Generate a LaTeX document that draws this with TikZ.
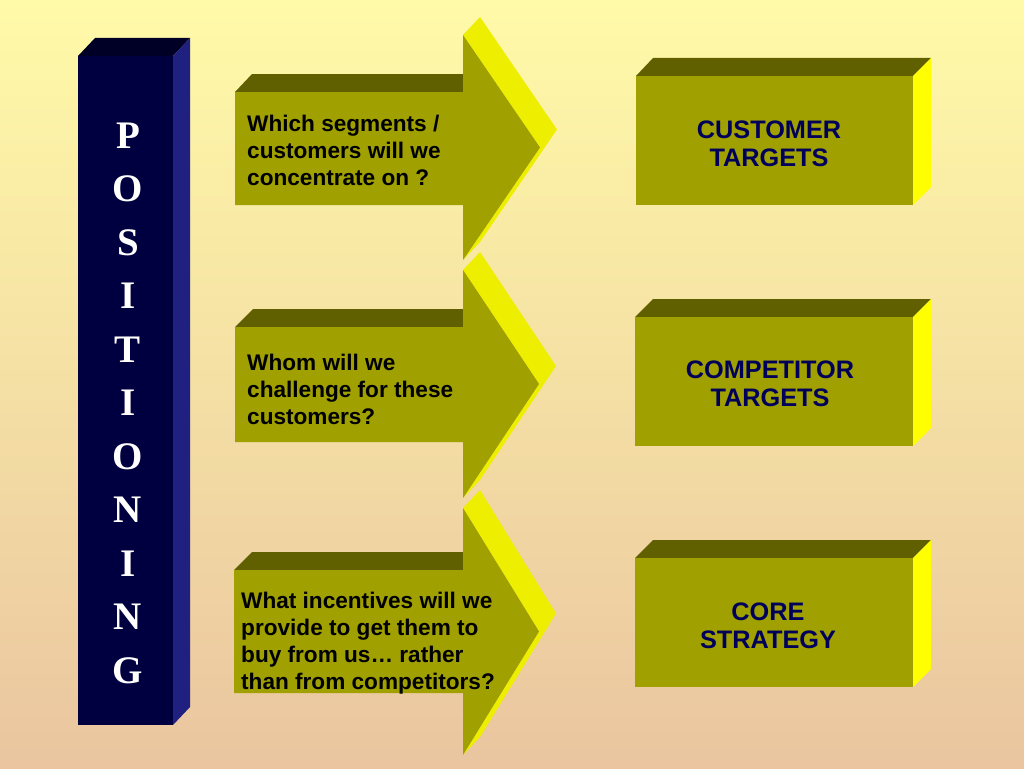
\documentclass[tikz,border=0pt]{standalone}
\usepackage{fontspec}
\setmainfont{Liberation Serif}
\setsansfont{Liberation Sans}
\definecolor{bgtop}{RGB}{255,250,168}
\definecolor{bgbottom}{RGB}{234,197,160}
\definecolor{barfront}{RGB}{0,0,64}
\definecolor{bartop}{RGB}{0,0,38}
\definecolor{barside}{RGB}{32,32,128}
\definecolor{facefront}{RGB}{160,160,0}
\definecolor{facetop}{RGB}{96,96,0}
\definecolor{boxside}{RGB}{255,255,0}
\definecolor{headside}{RGB}{238,238,0}
\definecolor{targettext}{RGB}{0,0,90}
\begin{document}
\begin{tikzpicture}[x=1pt, y=-1pt,
        question/.style={font=\sffamily\bfseries\fontsize{22.6}{27}\selectfont, align=left, anchor=north west, inner sep=0pt},
        target/.style={font=\sffamily\bfseries\fontsize{25.3}{28.5}\selectfont, text=targettext, align=center, inner sep=0pt}]
                            \useasboundingbox (0,0) rectangle (1024,768);
                            \shade[top color=bgtop, bottom color=bgbottom] (0,0) rectangle (1024,768);
                            % positioning bar
                            \fill[bartop] (78,56) -- (95,38) -- (190,38) -- (173,56) -- cycle;
                            \fill[barside] (173,56) -- (190,38) -- (190,707) -- (173,725) -- cycle;
                            \fill[barfront] (78,56) rectangle (173,725);
                            \node[font=\bfseries\fontsize{39}{53.5}\selectfont, text=white, align=center, inner sep=0pt] (letters) at (128,403) {P\\O\\S\\I\\T\\I\\O\\N\\I\\N\\G};
                            % arrow 1
                            \fill[facetop] (235,92) -- (252,74) -- (480,74) -- (463,92) -- cycle;
                            \fill[headside] (463,35) -- (480,17) -- (557,129.5) -- (540,147.5) -- cycle;
                            \fill[headside] (540,147.5) -- (557,129.5) -- (480,242) -- (463,260) -- cycle;
                            \fill[facefront] (235,92) -- (463,92) -- (463,35) -- (540,147.5) -- (463,260) -- (463,205) -- (235,205) -- cycle;
                            \node[question] (segments) at (247,115) {Which segments /\\customers will we\\concentrate on ?};
                            % arrow 2
                            \fill[facetop] (235,327) -- (253,309) -- (480,309) -- (463,327) -- cycle;
                            \fill[headside] (463,270) -- (480,252) -- (556,366) -- (539,384) -- cycle;
                            \fill[headside] (539,384) -- (556,366) -- (480,480) -- (463,498) -- cycle;
                            \fill[facefront] (235,327) -- (463,327) -- (463,270) -- (539,384) -- (463,498) -- (463,442) -- (235,442) -- cycle;
                            \node[question] (challenge) at (247,354) {Whom will we\\challenge for these\\customers?};
                            % arrow 3
                            \fill[facetop] (234,570) -- (252,552) -- (480,552) -- (463,570) -- cycle;
                            \fill[headside] (463,508) -- (480,490) -- (556,613.5) -- (539,631.5) -- cycle;
                            \fill[headside] (539,631.5) -- (556,613.5) -- (480,737) -- (463,755) -- cycle;
                            \fill[facefront] (234,570) -- (463,570) -- (463,508) -- (539,631.5) -- (463,755) -- (463,693) -- (234,693) -- cycle;
                            \node[question] (incentives) at (241,592) {What incentives will we\\provide to get them to\\buy from us… rather\\than from competitors?};
                            % target boxes
                            \fill[facetop] (636,76) -- (653,58) -- (931,58) -- (913,76) -- cycle;
                            \fill[boxside] (913,76) -- (931,58) -- (931,187) -- (913,205) -- cycle;
                            \fill[facefront] (636,76) rectangle (913,205);
                            \node[target] (customer) at (769,144) {CUSTOMER\\TARGETS};
                            \fill[facetop] (635,317) -- (653,299) -- (931,299) -- (913,317) -- cycle;
                            \fill[boxside] (913,317) -- (931,299) -- (931,428) -- (913,446) -- cycle;
                            \fill[facefront] (635,317) rectangle (913,446);
                            \node[target] (competitor) at (770,384) {COMPETITOR\\TARGETS};
                            \fill[facetop] (635,558) -- (653,540) -- (931,540) -- (913,558) -- cycle;
                            \fill[boxside] (913,558) -- (931,540) -- (931,669) -- (913,687) -- cycle;
                            \fill[facefront] (635,558) rectangle (913,687);
                            \node[target] (core) at (768,626) {CORE\\STRATEGY};
                        \end{tikzpicture}
\end{document}
